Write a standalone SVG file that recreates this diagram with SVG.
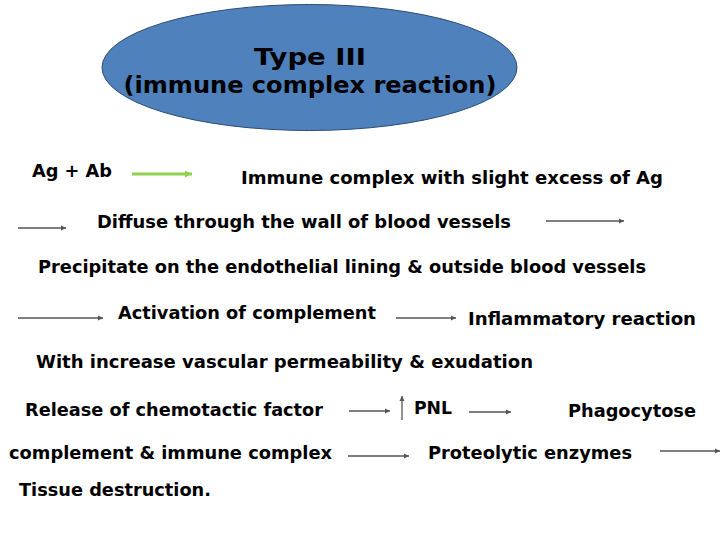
<svg xmlns="http://www.w3.org/2000/svg" width="720" height="540" viewBox="0 0 720 540">
<style>
.t{font-family:"DejaVu Sans","Liberation Sans",sans-serif;font-weight:bold;font-size:17px;fill:#000}
.h{font-family:"DejaVu Sans","Liberation Sans",sans-serif;font-weight:bold;font-size:23px;fill:#000}
.c{stroke:#555;stroke-width:1.3;fill:none;marker-end:url(#ah)}
</style>
<defs>
<marker id="ah" markerWidth="6" markerHeight="6" refX="5" refY="3" orient="auto" markerUnits="userSpaceOnUse"><path d="M0,0.5 L5,3 L0,5.5z" fill="#555"/></marker>
<marker id="ag" markerWidth="8" markerHeight="8" refX="7" refY="4" orient="auto" markerUnits="userSpaceOnUse"><path d="M0,0.5 L7,4 L0,7.5z" fill="#92d050"/></marker>
</defs>
<rect width="720" height="540" fill="#fff"/>
<g id="title">
<ellipse cx="309.5" cy="67.5" rx="207.5" ry="63" fill="#4f81bd" stroke="#2c4d75" stroke-width="1"/>
<text class="h" x="310" y="65" text-anchor="middle" textLength="112" lengthAdjust="spacingAndGlyphs">Type III</text>
<text class="h" x="310" y="93" text-anchor="middle" textLength="373" lengthAdjust="spacingAndGlyphs">(immune complex reaction)</text>
</g>
<g id="n-agab"><text class="t" x="32" y="177" textLength="80" lengthAdjust="spacingAndGlyphs">Ag + Ab</text></g>
<g id="n-ic"><text class="t" x="241" y="184" textLength="422" lengthAdjust="spacingAndGlyphs">Immune complex with slight excess of Ag</text></g>
<g id="n-diffuse"><text class="t" x="97" y="228" textLength="414" lengthAdjust="spacingAndGlyphs">Diffuse through the wall of blood vessels</text></g>
<g id="n-precip"><text class="t" x="38" y="273" textLength="608" lengthAdjust="spacingAndGlyphs">Precipitate on the endothelial lining &amp; outside blood vessels</text></g>
<g id="n-activ"><text class="t" x="118" y="319" textLength="258" lengthAdjust="spacingAndGlyphs">Activation of complement</text></g>
<g id="n-inflam"><text class="t" x="468" y="325" textLength="228" lengthAdjust="spacingAndGlyphs">Inflammatory reaction</text></g>
<g id="n-with"><text class="t" x="36" y="368" textLength="497" lengthAdjust="spacingAndGlyphs">With  increase vascular permeability &amp; exudation</text></g>
<g id="n-release"><text class="t" x="25" y="416" textLength="298" lengthAdjust="spacingAndGlyphs">Release of chemotactic factor</text></g>
<g id="n-pnl"><text class="t" x="414" y="414" textLength="38" lengthAdjust="spacingAndGlyphs">PNL</text></g>
<g id="n-phago"><text class="t" x="568" y="417" textLength="128" lengthAdjust="spacingAndGlyphs">Phagocytose</text></g>
<g id="n-compl"><text class="t" x="9" y="459" textLength="323" lengthAdjust="spacingAndGlyphs">complement &amp; immune complex</text></g>
<g id="n-proteo"><text class="t" x="428" y="459" textLength="204" lengthAdjust="spacingAndGlyphs">Proteolytic enzymes</text></g>
<g id="n-tissue"><text class="t" x="19" y="496" textLength="192" lengthAdjust="spacingAndGlyphs">Tissue destruction.</text></g>
<g id="connectors">
<line x1="132" y1="174" x2="192" y2="174" stroke="#92d050" stroke-width="3" marker-end="url(#ag)"/>
<line class="c" x1="18" y1="228" x2="66" y2="228"/>
<line class="c" x1="546" y1="221" x2="624" y2="221"/>
<line class="c" x1="18" y1="318" x2="103" y2="318"/>
<line class="c" x1="396" y1="318" x2="456" y2="318"/>
<line class="c" x1="349" y1="411" x2="390" y2="411"/>
<line class="c" x1="402" y1="420" x2="402" y2="396"/>
<line class="c" x1="469" y1="412" x2="511" y2="412"/>
<line class="c" x1="348" y1="456" x2="409" y2="456"/>
<line class="c" x1="660" y1="451" x2="720" y2="451"/>
</g>
</svg>
